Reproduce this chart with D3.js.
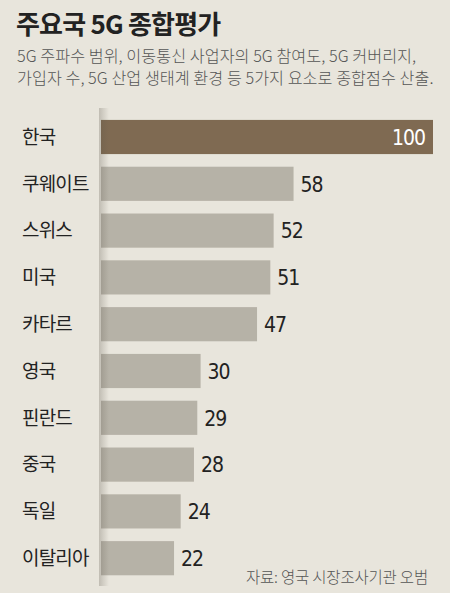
<!DOCTYPE html>
<html>

<head>
    <meta charset="UTF-8">
    <title>주요국 5G 종합평가</title>
    <script src="https://d3js.org/d3.v7.min.js"></script>
    <style>
        body { margin: 0; background: #e8e5dc; }
    </style>
</head>

<body>
    <script>
        const countries = ["한국", "쿠웨이트", "스위스", "미국", "카타르", "영국", "핀란드", "중국", "독일", "이탈리아"];
        const scores = [100, 58, 52, 51, 47, 30, 29, 28, 24, 22];
        const title = "주요국 5G 종합평가";
        const subtitle = [
            "5G 주파수 범위, 이동통신 사업자의 5G 참여도, 5G 커버리지,",
            "가입자 수, 5G 산업 생태계 환경 등 5가지 요소로 종합점수 산출."
        ];
        const source = "자료: 영국 시장조사기관 오범";

        const width = 450, height = 593;
        const kr = "'Noto Sans CJK KR', 'Noto Sans', sans-serif";

        const data = countries.map((c, i) => ({ name: c, value: scores[i] }));

        const svg = d3.select("body").append("svg")
            .attr("width", width).attr("height", height)
            .style("display", "block")
            .style("background", "#e8e5dc");

        svg.append("text")
            .attr("x", 16).attr("y", 34)
            .attr("font-family", kr).attr("font-weight", 700)
            .attr("font-size", 26).attr("letter-spacing", -0.8)
            .attr("fill", "#222")
            .text(title);

        svg.selectAll("text.sub")
            .data(subtitle).enter().append("text")
            .attr("class", "sub")
            .attr("x", 17).attr("y", (d, i) => 62 + i * 22)
            .attr("font-family", kr).attr("font-weight", 300)
            .attr("font-size", 16.2).attr("letter-spacing", 0.05)
            .attr("fill", "#555")
            .text(d => d);

        const x = d3.scaleLinear().domain([0, 100]).range([101, 433]);
        const y = d3.scaleBand().domain(countries)
            .range([113.6, 581.6]).paddingInner(0.27).paddingOuter(0.135);

        // left shadow strip
        const defs = svg.append("defs");
        const grad = defs.append("linearGradient").attr("id", "shade")
            .attr("x1", 0).attr("x2", 1).attr("y1", 0).attr("y2", 0);
        grad.append("stop").attr("offset", 0).attr("stop-color", "#5a5448").attr("stop-opacity", 0.28);
        grad.append("stop").attr("offset", 0.45).attr("stop-color", "#5a5448").attr("stop-opacity", 0.15);
        grad.append("stop").attr("offset", 1).attr("stop-color", "#5a5448").attr("stop-opacity", 0);

        svg.selectAll("rect.bar")
            .data(data).enter().append("rect")
            .attr("class", "bar")
            .attr("x", x(0))
            .attr("y", d => y(d.name))
            .attr("width", d => x(d.value) - x(0))
            .attr("height", y.bandwidth())
            .attr("fill", (d, i) => i === 0 ? "#7f6a52" : "#b6b2a7");

        svg.append("rect")
            .attr("x", 99).attr("y", 108)
            .attr("width", 10).attr("height", 478)
            .attr("fill", "url(#shade)");

        svg.selectAll("text.cat")
            .data(data).enter().append("text")
            .attr("class", "cat")
            .attr("x", 22)
            .attr("y", d => y(d.name) + y.bandwidth() / 2)
            .attr("dy", "0.36em")
            .attr("font-family", kr).attr("font-size", 19)
            .attr("letter-spacing", -0.8)
            .attr("fill", "#222")
            .text(d => d.name);

        svg.selectAll("text.val")
            .data(data).enter().append("text")
            .attr("class", "val")
            .attr("x", (d, i) => i === 0 ? x(d.value) - 8 : x(d.value) + 7)
            .attr("y", d => y(d.name) + y.bandwidth() / 2)
            .attr("dy", "0.37em")
            .attr("text-anchor", (d, i) => i === 0 ? "end" : "start")
            .attr("font-family", "'DejaVu Sans', sans-serif")
            .style("font-stretch", "condensed")
            .attr("font-size", 21)
            .attr("letter-spacing", -1)
            .attr("fill", (d, i) => i === 0 ? "#fff" : "#222")
            .text(d => d.value);

        svg.append("text")
            .attr("x", 428).attr("y", 583)
            .attr("text-anchor", "end")
            .attr("font-family", kr).attr("font-weight", 300)
            .attr("font-size", 15.5).attr("letter-spacing", -0.2)
            .attr("fill", "#555")
            .text(source);
    </script>
</body>

</html>
